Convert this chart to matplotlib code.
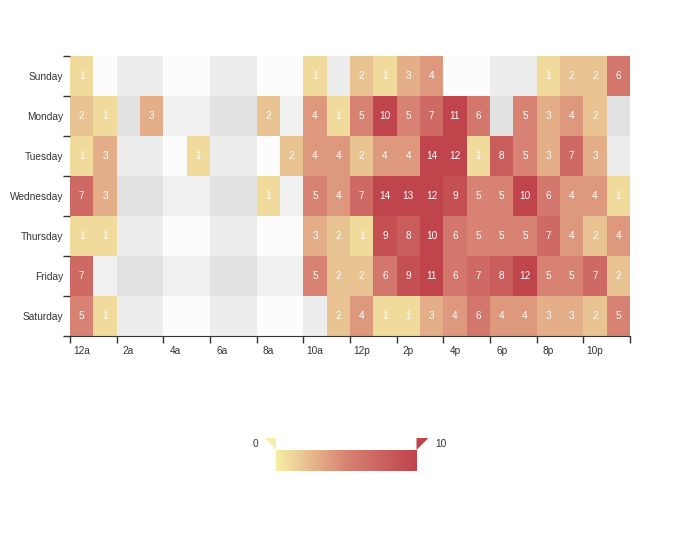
import matplotlib

matplotlib.use("Agg")

import matplotlib.pyplot as plt
import numpy as np
from matplotlib.colors import LinearSegmentedColormap, Normalize
from matplotlib.patches import Polygon

plt.rcParams["font.family"] = ["Liberation Sans", "DejaVu Sans"]

hours = ["12a", "1a", "2a", "3a", "4a", "5a", "6a", "7a", "8a", "9a", "10a", "11a",
         "12p", "1p", "2p", "3p", "4p", "5p", "6p", "7p", "8p", "9p", "10p", "11p"]
days = ["Saturday", "Friday", "Thursday", "Wednesday", "Tuesday", "Monday", "Sunday"]

# 0 means no cell drawn
saturday = [5, 1, 0, 0, 0, 0, 0, 0, 0, 0, 0, 2, 4, 1, 1, 3, 4, 6, 4, 4, 3, 3, 2, 5]
friday = [7, 0, 0, 0, 0, 0, 0, 0, 0, 0, 5, 2, 2, 6, 9, 11, 6, 7, 8, 12, 5, 5, 7, 2]
thursday = [1, 1, 0, 0, 0, 0, 0, 0, 0, 0, 3, 2, 1, 9, 8, 10, 6, 5, 5, 5, 7, 4, 2, 4]
wednesday = [7, 3, 0, 0, 0, 0, 0, 0, 1, 0, 5, 4, 7, 14, 13, 12, 9, 5, 5, 10, 6, 4, 4, 1]
tuesday = [1, 3, 0, 0, 0, 1, 0, 0, 0, 2, 4, 4, 2, 4, 4, 14, 12, 1, 8, 5, 3, 7, 3, 0]
monday = [2, 1, 0, 3, 0, 0, 0, 0, 2, 0, 4, 1, 5, 10, 5, 7, 11, 6, 0, 5, 3, 4, 2, 0]
sunday = [1, 0, 0, 0, 0, 0, 0, 0, 0, 0, 1, 0, 2, 1, 3, 4, 0, 0, 0, 0, 1, 2, 2, 6]

values = np.array([saturday, friday, thursday, wednesday, tuesday, monday, sunday])
vmin, vmax = 0, 10

cmap = LinearSegmentedColormap.from_list("vm", ["#f6efa6", "#d88273", "#bf444c"])
norm = Normalize(vmin=vmin, vmax=vmax, clip=True)
axis_color = "#333333"
label_size = 7.3

fig = plt.figure(figsize=(7.0, 5.6), dpi=100)
ax = fig.add_axes([0.1, 0.4, 0.8, 0.5])

# split areas (alternating background bands)
band_cols = ["#fafafa", "#c8c8c8"]
for i in range(len(days)):
    ax.axhspan(i - 0.5, i + 0.5, color=band_cols[i % 2], alpha=0.3, lw=0, zorder=0)
for i in range(0, len(hours), 2):
    ax.axvspan(i - 0.5, i + 1.5, color=band_cols[(i // 2) % 2], alpha=0.3, lw=0, zorder=0)

masked = np.ma.masked_equal(values, 0)
ax.pcolormesh(np.arange(len(hours) + 1) - 0.5, np.arange(len(days) + 1) - 0.5,
              masked, cmap=cmap, norm=norm, edgecolors="none", zorder=1)

for r in range(len(days)):
    for c in range(len(hours)):
        v = values[r, c]
        if v:
            ax.text(c, r, str(v), ha="center", va="center", color="white",
                    fontsize=7.2, zorder=2)

ax.set_xlim(-0.5, len(hours) - 0.5)
ax.set_ylim(-0.5, len(days) - 0.5)
ax.set_xticks(np.arange(-0.5, len(hours), 2))
ax.set_xticklabels([])
ax.set_xticks(np.arange(0, len(hours), 2), minor=True)
ax.set_xticklabels(hours[::2], minor=True)
ax.tick_params(axis="x", which="minor", length=0, pad=7, labelsize=label_size,
               labelcolor=axis_color)
ax.tick_params(axis="x", which="major", length=5, color=axis_color, width=1)
ax.set_yticks(np.arange(-0.5, len(days), 1))
ax.set_yticklabels([])
ax.set_yticks(np.arange(len(days)), minor=True)
ax.set_yticklabels(days, minor=True)
ax.tick_params(axis="y", which="minor", length=0, pad=5, labelsize=label_size,
               labelcolor=axis_color)
ax.tick_params(axis="y", which="major", length=5, color=axis_color, width=1)
for s in ["top", "right", "left"]:
    ax.spines[s].set_visible(False)
ax.spines["bottom"].set_color(axis_color)
ax.spines["bottom"].set_zorder(3)

# visual map (pixel coordinates overlay)
ov = fig.add_axes([0, 0, 1, 1], zorder=5)
ov.set_xlim(0, 700)
ov.set_ylim(560, 0)
ov.axis("off")
bx0, bx1, by0, by1 = 276, 416.5, 450, 471
grad = np.linspace(vmin, vmax, 256).reshape(1, -1)
ov.imshow(grad, cmap=cmap, norm=norm, aspect="auto",
          extent=[bx0, bx1, by1, by0], interpolation="bilinear")
ov.add_patch(Polygon([[bx0 - 11, 438], [bx0, 438], [bx0, by0]], closed=True,
                     color=cmap(norm(vmin)), lw=0))
ov.add_patch(Polygon([[bx1, 438], [bx1 + 12, 438], [bx1, by0]], closed=True,
                     color=cmap(norm(vmax)), lw=0))
ov.text(255, 444, str(vmin), ha="center", va="center", fontsize=label_size, color=axis_color)
ov.text(435, 444, str(vmax), ha="left", va="center", fontsize=label_size, color=axis_color)
ov.set_xlim(0, 700)
ov.set_ylim(560, 0)

fig.savefig("out.png", dpi=100)
